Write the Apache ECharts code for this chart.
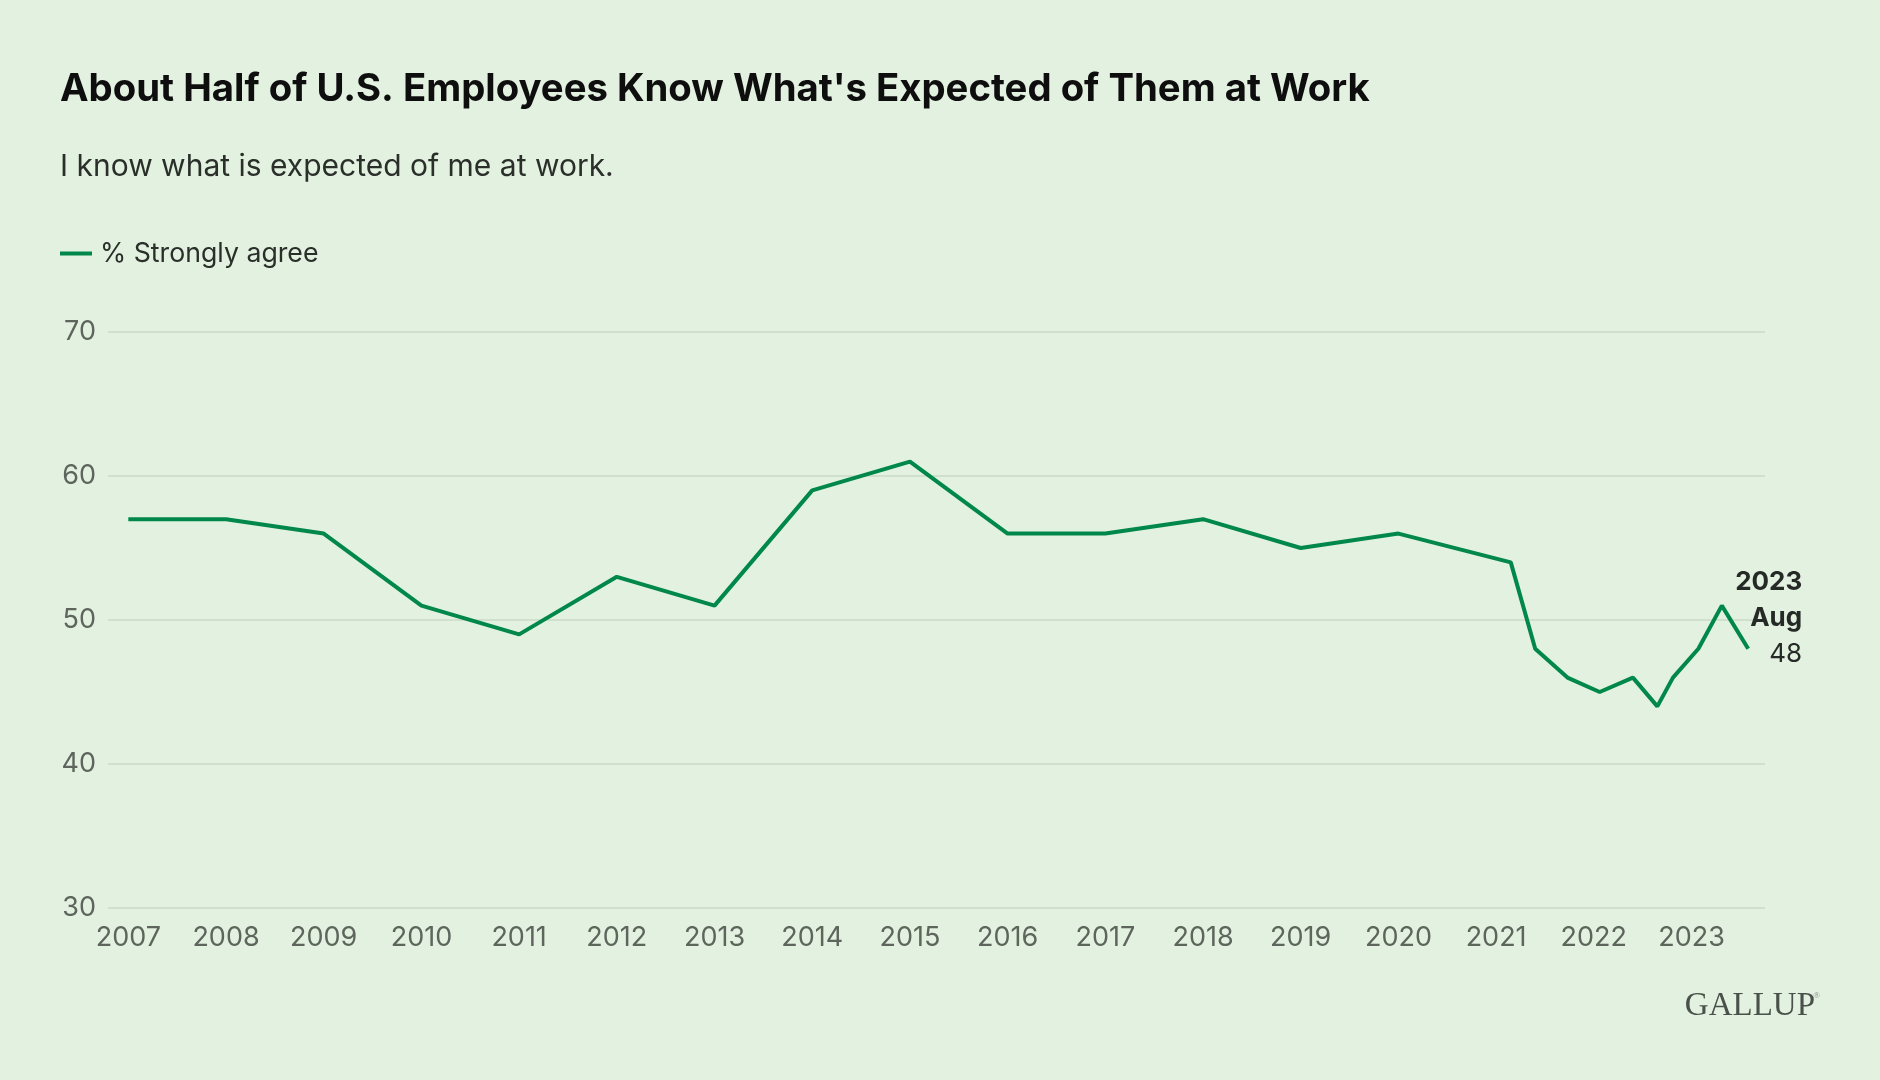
<!DOCTYPE html>
<html>
<head>
<meta charset="utf-8">
<script src="https://cdn.jsdelivr.net/npm/echarts@6/dist/echarts.min.js"></script>
<style>
html,body{margin:0;padding:0;background:#e3f1e0;}
#chart{width:1880px;height:1080px;}
</style>
</head>
<body>
<div id="chart"></div>
<script>
// Data (decimal year, % strongly agree)
const years = [2007, 2008, 2009, 2010, 2011, 2012, 2013, 2014, 2015, 2016, 2017, 2018, 2019, 2020,
               2021.15, 2021.40, 2021.73, 2022.06, 2022.40, 2022.65, 2022.81, 2023.07, 2023.31, 2023.58];
const values = [57, 57, 56, 51, 49, 53, 51, 59, 61, 56, 56, 57, 55, 56,
                54, 48, 46, 45, 46, 44, 46, 48, 51, 48];
const xTickLabels = [2007, 2008, 2009, 2010, 2011, 2012, 2013, 2014, 2015, 2016, 2017, 2018, 2019, 2020, 2021, 2022, 2023];
const yTicks = [30, 40, 50, 60, 70];
const seriesName = '% Strongly agree';
const lastLabel = {year: '2023', month: 'Aug'};

const FONT = 'Inter, Roboto, "Noto Sans", sans-serif';
const chart = echarts.init(document.getElementById('chart'));

const seriesData = years.map((y, i) => {
  const item = {value: [y, values[i]]};
  if (i === years.length - 1) {
    item.label = {
      show: true,
      position: 'right',
      distance: 0,
      align: 'right',
      offset: [54, -31],
      formatter: '{b|' + lastLabel.year + '}\n{b|' + lastLabel.month + '}\n{n|' + values[i] + '}',
      rich: {
        b: {fontFamily: FONT, fontSize: 26, fontWeight: 'bold', color: '#262a26', lineHeight: 36, align: 'right'},
        n: {fontFamily: FONT, fontSize: 26, color: '#262a26', lineHeight: 36, align: 'right'}
      }
    };
  }
  return item;
});

chart.setOption({
  backgroundColor: '#e3f1e0',
  animation: false,
  title: [
    {text: 'About Half of U.S. Employees Know What\'s Expected of Them at Work', left: 55, top: 65,
     textStyle: {fontFamily: FONT, fontSize: 38.3, fontWeight: 'bold', color: '#0e0e0e'}},
    {text: 'I know what is expected of me at work.', left: 55, top: 147,
     textStyle: {fontFamily: FONT, fontSize: 30, fontWeight: 'normal', color: '#2a2f2a'}}
  ],
  legend: {
    left: 60, top: 240, padding: 0,
    icon: 'rect', itemWidth: 32, itemHeight: 4, itemGap: 20,
    textStyle: {fontFamily: FONT, fontSize: 26.7, color: '#2a2f2a', padding: [0, 0, 0, 3]},
    data: [seriesName]
  },
  grid: {left: 108, right: 115, top: 332, bottom: 172, containLabel: false},
  xAxis: {
    type: 'value',
    min: 2006.792, max: 2023.752,
    axisLine: {show: false},
    axisTick: {show: false},
    splitLine: {show: false},
    axisLabel: {
      customValues: xTickLabels,
      fontFamily: FONT, fontSize: 27, color: '#5d655c', margin: 16,
      formatter: v => String(Math.round(v))
    }
  },
  yAxis: {
    type: 'value',
    min: yTicks[0], max: yTicks[yTicks.length - 1], interval: 10,
    axisLine: {show: false},
    axisTick: {show: false},
    splitLine: {show: true, lineStyle: {color: '#cbdac7', width: 1.5}},
    axisLabel: {fontFamily: FONT, fontSize: 27, color: '#5d655c', margin: 12}
  },
  series: [{
    name: seriesName,
    type: 'line',
    data: seriesData,
    color: '#00874a',
    lineStyle: {color: '#00874a', width: 4},
    symbol: 'circle',
    symbolSize: 0,
    showSymbol: true,
    showAllSymbol: true,
    itemStyle: {color: '#00874a'},
    emphasis: {disabled: true}
  }],
  graphic: [
    {type: 'text', right: 65, top: 990,
     style: {text: 'GALLUP', font: '33px "Liberation Serif", "DejaVu Serif", serif', fill: '#4a514a'}},
    {type: 'text', right: 60, top: 991,
     style: {text: '®', font: '9px "Liberation Serif", serif', fill: '#8a918a'}}
  ]
});
</script>
</body>
</html>
